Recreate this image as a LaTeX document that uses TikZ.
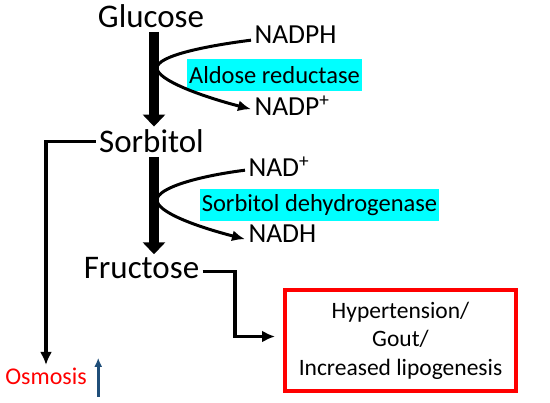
\documentclass[tikz,border=0pt]{standalone}
\usepackage{fontspec}
\setmainfont{Carlito}
\usetikzlibrary{arrows.meta}
\definecolor{enzcyan}{RGB}{0,255,255}
\definecolor{hotred}{RGB}{255,0,0}
\definecolor{upblue}{RGB}{31,78,121}

\begin{document}
\begin{tikzpicture}[x=1pt,y=-1pt,>=latex,
  sugar/.style={font=\fontsize{33}{38}\selectfont},
  cofac/.style={font=\fontsize{27.5}{32}\selectfont, anchor=base west},
  enzyme/.style={font=\fontsize{24.5}{28}\selectfont, fill=enzcyan, inner xsep=2pt, inner ysep=0pt, minimum height=32pt},
  fat/.style={line width=10pt, -{Triangle[width=22pt,length=12pt]}},
  conn/.style={line width=3.6pt, -{Latex[length=13pt,width=12pt]}},
  side/.style={line width=3pt, -{Latex[length=13pt,width=11pt]}}]
  \useasboundingbox (0,0) rectangle (550,403);
  % main sugars
  \node[sugar, anchor=base] (glu) at (151,28) {Glucose};
  \node[sugar, anchor=base] (sor) at (151.5,153) {Sorbitol};
  \node[sugar, anchor=base] (fru) at (141.5,279) {Fructose};
  \draw[fat] ([xshift=3pt]glu.south) -- ([xshift=3pt]glu.south |- sor.north);
  \draw[fat] ([xshift=2.5pt]sor.south) -- ([xshift=2.5pt]sor.south |- fru.north);
  % cofactors and enzymes
  \node[cofac] (nadph) at (251,44) {NADPH};
  \node[cofac] (nadp) at (251,116) {NADP\textsuperscript{+}};
  \node[cofac] (nad) at (245,177) {NAD\textsuperscript{+}};
  \node[cofac] (nadh) at (245,243) {NADH};
  \node[enzyme] (ar) at (274.5,75) {Aldose reductase};
  \node[enzyme] (sdh) at (319.5,205.5) {Sorbitol dehydrogenase};
  \coordinate (v1) at (157,68);
  \coordinate (v2) at (157,200);
  \draw[side] ([yshift=-5pt]nadph.west) .. controls +(-47,6) and +(0,-12) .. (v1)
    .. controls +(0,12) and +(-50,-13) .. ([yshift=-3pt]nadp.west);
  \draw[side] ([yshift=-3pt]nad.west) .. controls +(-47,6) and +(0,-12) .. (v2)
    .. controls +(0,12) and +(-50,-13) .. ([yshift=-5pt]nadh.west);
  % osmosis branch
  \node[font=\fontsize{24}{28}\selectfont, text=hotred, anchor=base] (osm) at (46,385) {Osmosis};
  \draw[conn] (sor.west) -| (osm.north);
  \draw[upblue, line width=2.8pt, -{Latex[length=9pt,width=8pt]}]
    ([xshift=8pt,yshift=-20pt]osm.east) -- ([xshift=8pt,yshift=19pt]osm.east);
  % outcome box
  \node[draw=hotred, line width=4pt, minimum width=231pt, minimum height=101pt,
    align=center, font=\fontsize{23.5}{28.5}\selectfont] (res) at (400.5,340.5)
    {Hypertension/\\Gout/\\Increased lipogenesis};
  \draw[conn, shorten >=8pt] ([yshift=-3pt]fru.east) -- ++(32,0) |- ([yshift=4pt]res.west);
\end{tikzpicture}
\end{document}
